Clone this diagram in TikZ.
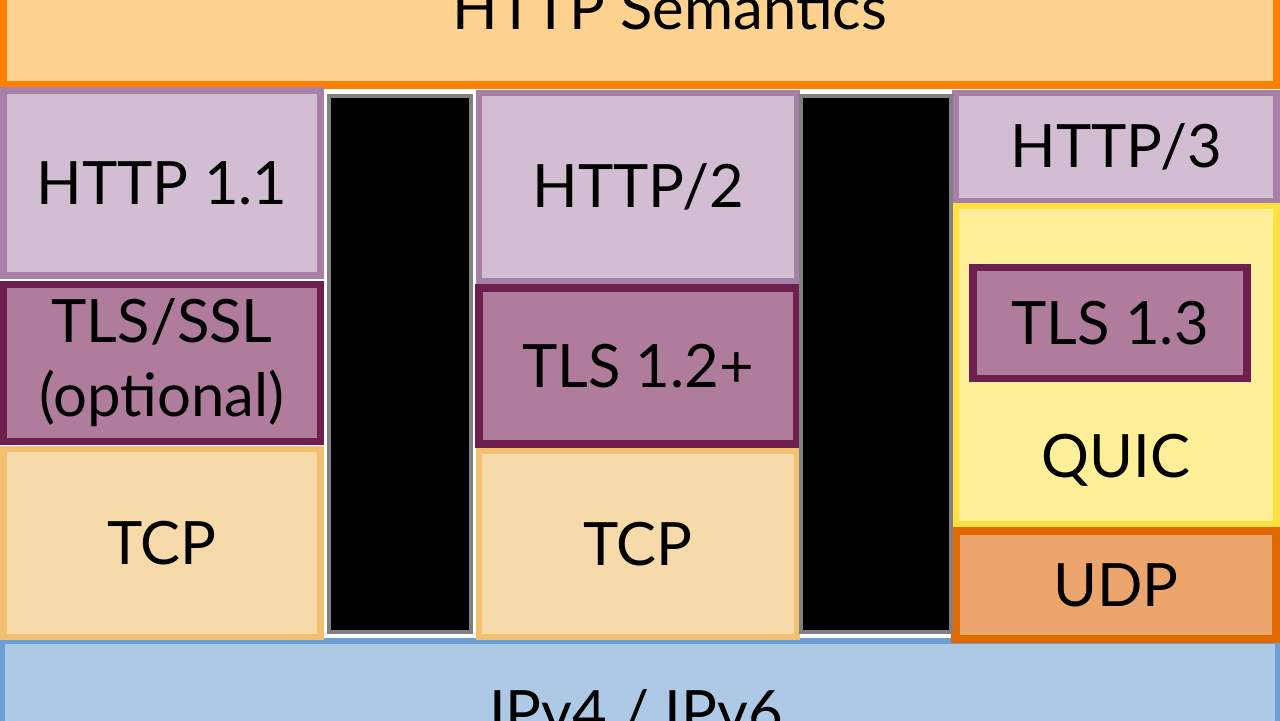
\documentclass[tikz,border=0pt]{standalone}
\usepackage{fontspec}
\setmainfont{Lato}
\definecolor{semfill}{HTML}{FFD28F}
\definecolor{semline}{HTML}{FF8000}
\definecolor{httpfill}{HTML}{D3BDD3}
\definecolor{httpline}{HTML}{A680A6}
\definecolor{tlsfill}{HTML}{B07C9C}
\definecolor{tlsline}{HTML}{6F1F4F}
\definecolor{tcpfill}{HTML}{F7DAAA}
\definecolor{tcpline}{HTML}{F2C06E}
\definecolor{quicfill}{HTML}{FEEF98}
\definecolor{quicline}{HTML}{FFE040}
\definecolor{udpfill}{HTML}{EBA56D}
\definecolor{udpline}{HTML}{E06A00}
\definecolor{ipfill}{HTML}{AEC9E6}
\definecolor{ipline}{HTML}{6D9FD5}
\tikzset{
  layer/.style={draw, line width=1.8pt, inner sep=0pt, align=center,
    font=\fontsize{17}{21}\selectfont},
  gapbox/.style={fill=black, draw=gray, line width=1.2pt}
}
\begin{document}
\begin{tikzpicture}[x=0.01cm, y=-0.01cm]
\useasboundingbox (0,0) rectangle (1280,720);
% outer layers
\node[layer, line width=2.5pt, fill=semfill, draw=semline, minimum width=12.74cm, minimum height=1.7cm] (sem) at (640,0) {};
\node[font=\fontsize{17}{21}\selectfont] (semlbl) at (670,8) {HTTP Semantics};
\node[layer, fill=ipfill, draw=ipline, minimum width=12.76cm, minimum height=1.6cm] (ip) at (640,721) {};
\node[font=\fontsize{17}{21}\selectfont] (iplbl) at (636,713) {IPv4 / IPv6};
% http 1.1 column
\node[layer, fill=httpfill, draw=httpline, minimum width=3.17cm, minimum height=1.85cm] (h1) at (162,183) {HTTP 1.1};
\node[layer, line width=2.2pt, fill=tlsfill, draw=tlsline, minimum width=3.17cm, minimum height=1.57cm] (ssl) at (162,363) {TLS/SSL\\(optional)};
\node[layer, fill=tcpfill, draw=tcpline, minimum width=3.17cm, minimum height=1.88cm] (tcpa) at (162,543) {TCP};
% http/2 column
\node[layer, fill=httpfill, draw=httpline, minimum width=3.18cm, minimum height=1.88cm] (h2) at (638,187) {HTTP/2};
\node[layer, line width=2.2pt, fill=tlsfill, draw=tlsline, minimum width=3.18cm, minimum height=1.56cm] (tls2) at (638,366) {TLS 1.2+};
\node[layer, fill=tcpfill, draw=tcpline, minimum width=3.18cm, minimum height=1.86cm] (tcpb) at (638,544) {TCP};
% http/3 column
\node[layer, fill=httpfill, draw=httpline, minimum width=3.21cm, minimum height=1.08cm] (h3) at (1116,147) {HTTP/3};
\node[layer, fill=quicfill, draw=quicline, minimum width=3.21cm, minimum height=3.18cm] (quic) at (1116,365) {};
\node[font=\fontsize{17}{21}\selectfont] (quiclbl) at (1116,460) {QUIC};
\node[layer, line width=2.2pt, fill=tlsfill, draw=tlsline, minimum width=2.74cm, minimum height=1.11cm] (tls3) at (1110,323) {TLS 1.3};
\node[layer, line width=2.5pt, fill=udpfill, draw=udpline, minimum width=3.21cm, minimum height=1.08cm] (udp) at (1116,585) {UDP};
% gaps
\node[gapbox, minimum width=1.42cm, minimum height=5.36cm, inner sep=0pt] (gapa) at (400,364) {};
\node[gapbox, minimum width=1.5cm, minimum height=5.36cm, inner sep=0pt] (gapb) at (876,364) {};
\end{tikzpicture}
\end{document}
